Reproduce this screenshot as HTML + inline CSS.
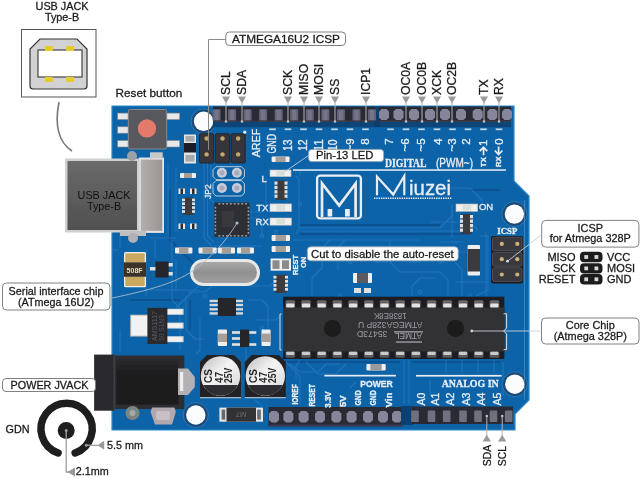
<!DOCTYPE html>
<html><head><meta charset="utf-8">
<style>
html,body{margin:0;padding:0;background:#fff;width:640px;height:478px;overflow:hidden}
svg{display:block}
text{font-family:"Liberation Sans",sans-serif}
.sf{font-family:"Liberation Serif",serif;font-weight:bold}
text[fill="#e9eef5"]{stroke:#e9eef5;stroke-width:0.3px}
text[fill="#1a1a1a"]{stroke:#1a1a1a;stroke-width:0.28px}
</style></head><body>
<svg width="640" height="478" viewBox="0 0 640 478">
<defs>
<linearGradient id="capg" x1="0" y1="0" x2="1" y2="1">
<stop offset="0" stop-color="#bdbdbd"/><stop offset="0.45" stop-color="#f4f4f4"/><stop offset="1" stop-color="#d6d6d6"/>
</linearGradient>
<linearGradient id="xtal" x1="0" y1="0" x2="0" y2="1">
<stop offset="0" stop-color="#a8a8a8"/><stop offset="0.5" stop-color="#909090"/><stop offset="1" stop-color="#a0a0a0"/>
</linearGradient>
<linearGradient id="usbside" x1="0" y1="0" x2="1" y2="0">
<stop offset="0" stop-color="#b4aeac"/><stop offset="1" stop-color="#9a9492"/>
</linearGradient>
<linearGradient id="usbface" x1="0" y1="0" x2="0" y2="1">
<stop offset="0" stop-color="#6a6a6a"/><stop offset="1" stop-color="#505050"/>
</linearGradient>
<linearGradient id="pjbody" x1="0" y1="0" x2="0" y2="1">
<stop offset="0" stop-color="#2a2a2c"/><stop offset="0.3" stop-color="#1c1c1e"/><stop offset="1" stop-color="#1a1a1c"/>
</linearGradient>
<filter id="bl" x="-2%" y="-2%" width="104%" height="104%"><feGaussianBlur stdDeviation="0.45"/></filter>
</defs>
<rect width="640" height="478" fill="#fff"/>

<g filter="url(#bl)">
<path d="M112,106 L514,106 L514,181 L529,196 L529,400 L515,414 L515,430 L112,430 Z" fill="#0c63a8" stroke="#2c88c8" stroke-width="1.2"/>
<g fill="none" stroke="#0a4f8f" stroke-width="2" opacity="0.8">
<path d="M300,234 L470,234"/>
<path d="M300,225 L440,225"/>
<path d="M170,190 L170,240 L200,270"/>
<path d="M190,300 L190,330"/>
<path d="M284,362 L400,362"/>
<path d="M412,362 L500,362"/>
<path d="M130,300 L180,300"/>
<path d="M470,190 L500,190"/>
</g>
<g fill="none" stroke="#2377bd" stroke-width="1.1" opacity="0.9">
<path d="M204,160 L204,238 L212,246"/>
<path d="M207.5,160 L207.5,236 L214,242.5"/>
<path d="M176,168 L176,232"/>
<path d="M172,240 L172,300 L180,308 L180,350"/>
<path d="M250,212 L262,212 L266,208 L266,178"/>
<path d="M250,218 L258,218 L262,222 L262,236"/>
<path d="M296,176 L299,179 L299,230 L296,233"/>
<path d="M293,240 L420,240"/>
<path d="M300,231 L470,231"/>
<path d="M300,228 L440,228 L452,216 L452,206"/>
<path d="M330,240 L322,248 L322,268 L312,278 L312,296"/>
<path d="M345,240 L338,247 L338,270"/>
<path d="M375,262 L390,262 L400,272 L440,272 L448,280 L448,296"/>
<path d="M390,262 L390,242"/>
<path d="M410,262 L420,262 L430,252 L480,252"/>
<path d="M455,262 L462,270 L462,296"/>
<path d="M188,292 L205,292 L212,286 L270,286 L276,280"/>
<path d="M186,296 L186,330 L195,339 L205,339"/>
<path d="M248,300 L262,300 L268,306 L268,328"/>
<path d="M200,318 L200,350 L196,354"/>
<path d="M255,320 L276,320 L280,316"/>
<path d="M120,196 L120,248"/>
<path d="M150,238 L176,238"/>
<path d="M290,364 L300,372 L318,372 L326,364 L340,364"/>
<path d="M404,360 L404,404"/>
<path d="M409,360 L409,404"/>
<path d="M300,360 L296,366 L296,378"/>
<path d="M446,360 L446,372"/>
<path d="M462,360 L462,372"/>
<path d="M478,360 L478,372"/>
<path d="M494,360 L494,372"/>
<path d="M430,188 L470,188 L482,200 L482,204"/>
<path d="M480,236 L488,236 L488,290 L476,296"/>
<path d="M176,260 L176,290"/>
<path d="M150,290 L200,290"/>
<path d="M215,246 L262,246"/>
<path d="M112,250 L118,250"/>
<path d="M255,400 L262,406"/>
<path d="M246,360 L246,340"/>
<path d="M486,232 L486,296"/>
<path d="M430,222 L470,222 L478,230"/>
<path d="M440,242 L462,242"/>
<path d="M455,282 L488,282"/>
<path d="M452,204 L452,238"/>
<path d="M168,165 L168,236"/>
<path d="M211,165 L211,200 L214,203"/>
<path d="M286,362 L300,376 L300,404"/>
<path d="M306,362 L318,374 L336,374 L346,364"/>
<path d="M350,388 L356,382"/>
<path d="M412,296 L412,286 L420,278 L436,278"/>
<path d="M300,170 L300,176"/>
<path d="M120,330 L120,352"/>
<path d="M176,308 L200,284 L214,284"/>
<path d="M146,250 L146,296"/>
<path d="M155,240 L155,258"/>
<path d="M430,380 L430,395"/>
<path d="M503,362 L503,396"/>
</g>
<circle cx="262" cy="236" r="1.8" fill="none" stroke="#2377bd" stroke-width="1"/>
<circle cx="276" cy="232" r="1.8" fill="none" stroke="#2377bd" stroke-width="1"/>
<circle cx="300" cy="204" r="1.8" fill="none" stroke="#2377bd" stroke-width="1"/>
<circle cx="340" cy="296" r="1.8" fill="none" stroke="#2377bd" stroke-width="1"/>
<circle cx="420" cy="292" r="1.8" fill="none" stroke="#2377bd" stroke-width="1"/>
<circle cx="470" cy="296" r="1.8" fill="none" stroke="#2377bd" stroke-width="1"/>
<circle cx="205" cy="296" r="1.8" fill="none" stroke="#2377bd" stroke-width="1"/>
<circle cx="480" cy="300" r="1.8" fill="none" stroke="#2377bd" stroke-width="1"/>
<circle cx="350" cy="262" r="1.8" fill="none" stroke="#2377bd" stroke-width="1"/>
<circle cx="440" cy="262" r="1.8" fill="none" stroke="#2377bd" stroke-width="1"/>
<circle cx="398" cy="300" r="1.8" fill="none" stroke="#2377bd" stroke-width="1"/>
<circle cx="262" cy="328" r="1.8" fill="none" stroke="#2377bd" stroke-width="1"/>
<circle cx="203.6" cy="121.3" r="12.6" fill="#1d4c7a" stroke="#2a7ab8" stroke-width="1"/>
<circle cx="203.6" cy="121.3" r="9.7" fill="#fbfcfd"/>
<circle cx="514.4" cy="214.1" r="12.6" fill="#1d4c7a" stroke="#2a7ab8" stroke-width="1"/>
<circle cx="514.4" cy="214.1" r="9.7" fill="#fbfcfd"/>
<circle cx="514.8" cy="384.2" r="12.6" fill="#1d4c7a" stroke="#2a7ab8" stroke-width="1"/>
<circle cx="514.8" cy="384.2" r="9.7" fill="#fbfcfd"/>
<circle cx="195.8" cy="415" r="12.6" fill="#1d4c7a" stroke="#2a7ab8" stroke-width="1"/>
<circle cx="195.8" cy="415" r="9.7" fill="#fbfcfd"/>
<rect x="213" y="121" width="298" height="6.2" fill="#0a4577"/>
<rect x="374" y="106.5" width="6" height="20" fill="#0b3d6a"/>
<rect x="213" y="106.5" width="162" height="15.5" fill="#2a2a36"/>
<rect x="213" y="120.5" width="162" height="1.5" fill="#3a3a48"/>
<rect x="212.5" y="109.2" width="8" height="11.4" rx="1.2" fill="#64647a"/>
<rect x="214.5" y="110" width="4" height="10" fill="#747488"/>
<rect x="228.1" y="109.2" width="8" height="11.4" rx="1.2" fill="#64647a"/>
<rect x="230.1" y="110" width="4" height="10" fill="#747488"/>
<rect x="243.6" y="109.2" width="8" height="11.4" rx="1.2" fill="#64647a"/>
<rect x="245.6" y="110" width="4" height="10" fill="#747488"/>
<rect x="259.1" y="109.2" width="8" height="11.4" rx="1.2" fill="#64647a"/>
<rect x="261.1" y="110" width="4" height="10" fill="#747488"/>
<rect x="274.7" y="109.2" width="8" height="11.4" rx="1.2" fill="#64647a"/>
<rect x="276.7" y="110" width="4" height="10" fill="#747488"/>
<rect x="290.2" y="109.2" width="8" height="11.4" rx="1.2" fill="#64647a"/>
<rect x="292.2" y="110" width="4" height="10" fill="#747488"/>
<rect x="305.8" y="109.2" width="8" height="11.4" rx="1.2" fill="#64647a"/>
<rect x="307.8" y="110" width="4" height="10" fill="#747488"/>
<rect x="321.4" y="109.2" width="8" height="11.4" rx="1.2" fill="#64647a"/>
<rect x="323.4" y="110" width="4" height="10" fill="#747488"/>
<rect x="336.9" y="109.2" width="8" height="11.4" rx="1.2" fill="#64647a"/>
<rect x="338.9" y="110" width="4" height="10" fill="#747488"/>
<rect x="352.5" y="109.2" width="8" height="11.4" rx="1.2" fill="#64647a"/>
<rect x="354.5" y="110" width="4" height="10" fill="#747488"/>
<rect x="368.0" y="109.2" width="8" height="11.4" rx="1.2" fill="#64647a"/>
<rect x="370.0" y="110" width="4" height="10" fill="#747488"/>
<rect x="379" y="106.5" width="132" height="15.5" fill="#2a2a36"/>
<rect x="379" y="120.5" width="132" height="1.5" fill="#3a3a48"/>
<path d="M381.5,109 L386.5,109 L389.0,111.5 L389.0,117.5 L386.5,120 L381.5,120 L379.0,117.5 L379.0,111.5 Z" fill="#86869a"/>
<path d="M396.0,109 L401.0,109 L403.5,111.5 L403.5,117.5 L401.0,120 L396.0,120 L393.5,117.5 L393.5,111.5 Z" fill="#86869a"/>
<path d="M411.5,109 L416.5,109 L419.0,111.5 L419.0,117.5 L416.5,120 L411.5,120 L409.0,117.5 L409.0,111.5 Z" fill="#86869a"/>
<path d="M427.5,109 L432.5,109 L435.0,111.5 L435.0,117.5 L432.5,120 L427.5,120 L425.0,117.5 L425.0,111.5 Z" fill="#86869a"/>
<path d="M442.5,109 L447.5,109 L450.0,111.5 L450.0,117.5 L447.5,120 L442.5,120 L440.0,117.5 L440.0,111.5 Z" fill="#86869a"/>
<path d="M458.5,109 L463.5,109 L466.0,111.5 L466.0,117.5 L463.5,120 L458.5,120 L456.0,117.5 L456.0,111.5 Z" fill="#86869a"/>
<path d="M475.2,109 L480.2,109 L482.7,111.5 L482.7,117.5 L480.2,120 L475.2,120 L472.7,117.5 L472.7,111.5 Z" fill="#86869a"/>
<path d="M489.8,109 L494.8,109 L497.3,111.5 L497.3,117.5 L494.8,120 L489.8,120 L487.3,117.5 L487.3,111.5 Z" fill="#86869a"/>
<path d="M504.5,109 L509.5,109 L512.0,111.5 L512.0,117.5 L509.5,120 L504.5,120 L502.0,117.5 L502.0,111.5 Z" fill="#86869a"/>
<rect x="269.2" y="128.4" width="6.6" height="1.8" fill="#dfe8f2" opacity="0.85"/>
<rect x="284.7" y="128.4" width="6.6" height="1.8" fill="#dfe8f2" opacity="0.85"/>
<rect x="300.2" y="128.4" width="6.6" height="1.8" fill="#dfe8f2" opacity="0.85"/>
<rect x="315.7" y="128.4" width="6.6" height="1.8" fill="#dfe8f2" opacity="0.85"/>
<rect x="331.2" y="128.4" width="6.6" height="1.8" fill="#dfe8f2" opacity="0.85"/>
<rect x="346.7" y="128.4" width="6.6" height="1.8" fill="#dfe8f2" opacity="0.85"/>
<rect x="362.2" y="128.4" width="6.6" height="1.8" fill="#dfe8f2" opacity="0.85"/>
<rect x="387.2" y="128.4" width="6.6" height="1.8" fill="#dfe8f2" opacity="0.85"/>
<rect x="402.7" y="128.4" width="6.6" height="1.8" fill="#dfe8f2" opacity="0.85"/>
<rect x="418.2" y="128.4" width="6.6" height="1.8" fill="#dfe8f2" opacity="0.85"/>
<rect x="433.7" y="128.4" width="6.6" height="1.8" fill="#dfe8f2" opacity="0.85"/>
<rect x="449.2" y="128.4" width="6.6" height="1.8" fill="#dfe8f2" opacity="0.85"/>
<rect x="464.7" y="128.4" width="6.6" height="1.8" fill="#dfe8f2" opacity="0.85"/>
<rect x="480.2" y="128.4" width="6.6" height="1.8" fill="#dfe8f2" opacity="0.85"/>
<rect x="495.7" y="128.4" width="6.6" height="1.8" fill="#dfe8f2" opacity="0.85"/>
<rect x="268.5" y="407" width="134.5" height="19" fill="#2a2a36"/>
<path d="M271.5,411 L276.5,411 L279.0,413.5 L279.0,420 L276.5,422.6 L271.5,422.6 L269.0,420 L269.0,413.5 Z" fill="#86869a"/>
<path d="M285.9,411 L290.9,411 L293.4,413.5 L293.4,420 L290.9,422.6 L285.9,422.6 L283.4,420 L283.4,413.5 Z" fill="#86869a"/>
<path d="M301.1,411 L306.1,411 L308.6,413.5 L308.6,420 L306.1,422.6 L301.1,422.6 L298.6,420 L298.6,413.5 Z" fill="#86869a"/>
<path d="M317.5,411 L322.5,411 L325.0,413.5 L325.0,420 L322.5,422.6 L317.5,422.6 L315.0,420 L315.0,413.5 Z" fill="#86869a"/>
<path d="M333.9,411 L338.9,411 L341.4,413.5 L341.4,420 L338.9,422.6 L333.9,422.6 L331.4,420 L331.4,413.5 Z" fill="#86869a"/>
<path d="M349.1,411 L354.1,411 L356.6,413.5 L356.6,420 L354.1,422.6 L349.1,422.6 L346.6,420 L346.6,413.5 Z" fill="#86869a"/>
<path d="M365.5,411 L370.5,411 L373.0,413.5 L373.0,420 L370.5,422.6 L365.5,422.6 L363.0,420 L363.0,413.5 Z" fill="#86869a"/>
<path d="M380.5,411 L385.5,411 L388.0,413.5 L388.0,420 L385.5,422.6 L380.5,422.6 L378.0,420 L378.0,413.5 Z" fill="#86869a"/>
<path d="M394.5,411 L399.5,411 L402.0,413.5 L402.0,420 L399.5,422.6 L394.5,422.6 L392.0,420 L392.0,413.5 Z" fill="#86869a"/>
<rect x="268.5" y="424.5" width="134.5" height="2" fill="#3a3a48"/>
<rect x="401" y="406" width="12" height="19" fill="#0a4172"/>
<rect x="412" y="406.5" width="101" height="17.5" fill="#2a2a36"/>
<rect x="411.2" y="410.5" width="7.6" height="11.5" rx="1" fill="#70707f"/>
<rect x="427.7" y="410.5" width="7.6" height="11.5" rx="1" fill="#70707f"/>
<rect x="442.9" y="410.5" width="7.6" height="11.5" rx="1" fill="#70707f"/>
<rect x="459.2" y="410.5" width="7.6" height="11.5" rx="1" fill="#70707f"/>
<rect x="474.2" y="410.5" width="7.6" height="11.5" rx="1" fill="#70707f"/>
<rect x="489.7" y="410.5" width="7.6" height="11.5" rx="1" fill="#70707f"/>
<rect x="504.9" y="410.5" width="7.6" height="11.5" rx="1" fill="#70707f"/>
<rect x="139" y="157.5" width="25" height="75.4" fill="#e4e4e4"/>
<rect x="140.8" y="159.6" width="21.4" height="71.2" fill="url(#usbside)"/>
<rect x="65" y="158.5" width="74.5" height="74" fill="#d0d0d0"/>
<rect x="67.5" y="161" width="69.5" height="69" fill="url(#usbface)"/>
<text x="104" y="199" font-size="10.8" fill="#111" text-anchor="middle" >USB JACK</text>
<text x="104" y="210" font-size="10.8" fill="#111" text-anchor="middle" >Type-B</text>
<rect x="117.7" y="113.1" width="11" height="6.4" fill="#e8e8e8" stroke="#8a8a8a" stroke-width="0.6"/>
<rect x="117.7" y="126.8" width="11" height="6.4" fill="#e8e8e8" stroke="#8a8a8a" stroke-width="0.6"/>
<rect x="117.7" y="140.60000000000002" width="11" height="6.4" fill="#e8e8e8" stroke="#8a8a8a" stroke-width="0.6"/>
<rect x="166" y="113.1" width="13.6" height="6.4" fill="#e8e8e8" stroke="#8a8a8a" stroke-width="0.6"/>
<rect x="166" y="140.60000000000002" width="13.6" height="6.4" fill="#e8e8e8" stroke="#8a8a8a" stroke-width="0.6"/>
<rect x="128.3" y="109.5" width="38.4" height="39.5" rx="1.5" fill="#58585e" stroke="#88888e" stroke-width="1"/>
<circle cx="147" cy="128.4" r="9.2" fill="#e67a6a"/>
<rect x="199.5" y="133.7" width="14.2" height="29.3" rx="1.5" fill="#34343a" stroke="#1e1e22" stroke-width="0.8"/>
<circle cx="206.6" cy="138.5" r="2.2" fill="#c9a66a"/>
<circle cx="206.6" cy="154.4" r="2.2" fill="#c9a66a"/>
<rect x="215.4" y="133.7" width="14.2" height="29.3" rx="1.5" fill="#34343a" stroke="#1e1e22" stroke-width="0.8"/>
<circle cx="222.5" cy="138.5" r="2.2" fill="#c9a66a"/>
<circle cx="222.5" cy="154.4" r="2.2" fill="#c9a66a"/>
<rect x="231" y="133.7" width="14.2" height="29.3" rx="1.5" fill="#34343a" stroke="#1e1e22" stroke-width="0.8"/>
<circle cx="238.1" cy="138.5" r="2.2" fill="#c9a66a"/>
<circle cx="238.1" cy="154.4" r="2.2" fill="#c9a66a"/>
<circle cx="244.8" cy="132.2" r="1.6" fill="#e8eef5"/>
<path d="M216,166.7 L241.5,166.7 L244.4,169.7 L244.4,176.7 L241.5,179.7 L216,179.7 L213,176.7 L213,169.7 Z" fill="none" stroke="#d0dae6" stroke-width="0.9"/>
<path d="M216,180.6 L241.5,180.6 L244.4,183.6 L244.4,193 L241.5,196 L216,196 L213,193 L213,183.6 Z" fill="none" stroke="#d0dae6" stroke-width="0.9"/>
<circle cx="221.9" cy="172.8" r="5" fill="#c8ccd8"/>
<circle cx="221.9" cy="172.8" r="2.6" fill="#a4aabb"/>
<circle cx="236.9" cy="172.8" r="5" fill="#c8ccd8"/>
<circle cx="236.9" cy="172.8" r="2.6" fill="#a4aabb"/>
<circle cx="221.9" cy="188" r="5" fill="#c8ccd8"/>
<circle cx="221.9" cy="188" r="2.6" fill="#a4aabb"/>
<circle cx="236.9" cy="188" r="5" fill="#c8ccd8"/>
<circle cx="236.9" cy="188" r="2.6" fill="#a4aabb"/>
<rect x="214.3" y="202.6" width="35.2" height="34.4" rx="1" fill="#2e2e34"/>
<rect x="218.5" y="203" width="1.8" height="1.6" fill="#9a9aa0"/><rect x="218.5" y="235" width="1.8" height="1.6" fill="#9a9aa0"/>
<rect x="214.6" y="206.8" width="1.6" height="1.8" fill="#9a9aa0"/><rect x="247.6" y="206.8" width="1.6" height="1.8" fill="#9a9aa0"/>
<rect x="222.3" y="203" width="1.8" height="1.6" fill="#9a9aa0"/><rect x="222.3" y="235" width="1.8" height="1.6" fill="#9a9aa0"/>
<rect x="214.6" y="210.4" width="1.6" height="1.8" fill="#9a9aa0"/><rect x="247.6" y="210.4" width="1.6" height="1.8" fill="#9a9aa0"/>
<rect x="226.1" y="203" width="1.8" height="1.6" fill="#9a9aa0"/><rect x="226.1" y="235" width="1.8" height="1.6" fill="#9a9aa0"/>
<rect x="214.6" y="214.0" width="1.6" height="1.8" fill="#9a9aa0"/><rect x="247.6" y="214.0" width="1.6" height="1.8" fill="#9a9aa0"/>
<rect x="229.9" y="203" width="1.8" height="1.6" fill="#9a9aa0"/><rect x="229.9" y="235" width="1.8" height="1.6" fill="#9a9aa0"/>
<rect x="214.6" y="217.6" width="1.6" height="1.8" fill="#9a9aa0"/><rect x="247.6" y="217.6" width="1.6" height="1.8" fill="#9a9aa0"/>
<rect x="233.7" y="203" width="1.8" height="1.6" fill="#9a9aa0"/><rect x="233.7" y="235" width="1.8" height="1.6" fill="#9a9aa0"/>
<rect x="214.6" y="221.2" width="1.6" height="1.8" fill="#9a9aa0"/><rect x="247.6" y="221.2" width="1.6" height="1.8" fill="#9a9aa0"/>
<rect x="237.5" y="203" width="1.8" height="1.6" fill="#9a9aa0"/><rect x="237.5" y="235" width="1.8" height="1.6" fill="#9a9aa0"/>
<rect x="214.6" y="224.8" width="1.6" height="1.8" fill="#9a9aa0"/><rect x="247.6" y="224.8" width="1.6" height="1.8" fill="#9a9aa0"/>
<rect x="241.3" y="203" width="1.8" height="1.6" fill="#9a9aa0"/><rect x="241.3" y="235" width="1.8" height="1.6" fill="#9a9aa0"/>
<rect x="214.6" y="228.4" width="1.6" height="1.8" fill="#9a9aa0"/><rect x="247.6" y="228.4" width="1.6" height="1.8" fill="#9a9aa0"/>
<rect x="245.1" y="203" width="1.8" height="1.6" fill="#9a9aa0"/><rect x="245.1" y="235" width="1.8" height="1.6" fill="#9a9aa0"/>
<rect x="214.6" y="232.0" width="1.6" height="1.8" fill="#9a9aa0"/><rect x="247.6" y="232.0" width="1.6" height="1.8" fill="#9a9aa0"/>
<rect x="222" y="211" width="12" height="16" fill="#3a3a40" opacity="0.8"/>
<rect x="190" y="259" width="70" height="27" rx="13.5" fill="#e8e8e8"/>
<rect x="193" y="262" width="64" height="21" rx="10.5" fill="url(#xtal)"/>
<rect x="124" y="252" width="22" height="35.3" rx="1.5" fill="#f0f0f0"/>
<rect x="125.3" y="253.3" width="19.4" height="9" fill="#cba85e"/>
<rect x="125.3" y="276.8" width="19.4" height="9.2" fill="#cba85e"/>
<rect x="124" y="262.3" width="22" height="14.5" fill="#3a322a"/>
<text x="134.6" y="273.2" font-size="7.2" font-weight="bold" fill="#e8dcc0" text-anchor="middle" textLength="16" lengthAdjust="spacingAndGlyphs">508F</text>
<rect x="130.2" y="314.7" width="17.8" height="21.9" fill="#c8bcb4"/>
<rect x="131.2" y="315.7" width="16" height="19.9" fill="#f2f2f2"/>
<rect x="167" y="308.8" width="16.6" height="6" fill="#d8d8d8"/>
<rect x="167" y="309.6" width="15" height="4.4" fill="#f2f2f2"/>
<rect x="167" y="322.6" width="16.6" height="6" fill="#d8d8d8"/>
<rect x="167" y="323.40000000000003" width="15" height="4.4" fill="#f2f2f2"/>
<rect x="167" y="336.2" width="16.6" height="6" fill="#d8d8d8"/>
<rect x="167" y="337.0" width="15" height="4.4" fill="#f2f2f2"/>
<rect x="147.5" y="307.9" width="19.9" height="36.1" fill="#2c2b2f"/>
<text transform="translate(157.24,341) rotate(-90)" font-size="6.5" fill="#5a5a5e" text-anchor="start" textLength="30" lengthAdjust="spacingAndGlyphs">AMS1117</text>
<text transform="translate(164.24,341) rotate(-90)" font-size="6.5" fill="#55555a" text-anchor="start" textLength="26" lengthAdjust="spacingAndGlyphs">50 S1N3</text>
<rect x="114.3" y="355.5" width="70" height="53.5" fill="#2e2e31"/>
<rect x="116.5" y="359.5" width="62" height="45" fill="url(#pjbody)"/>
<path d="M178,368.6 L188,368.6 L194.8,377 L194.8,387 L188,395 L178,395 Z" fill="#b4b0b4"/>
<rect x="180" y="372" width="3.2" height="19" fill="#eeeeee"/>
<rect x="94.1" y="354.6" width="20.2" height="56.1" fill="#2c2c2f"/>
<rect x="113.6" y="354.6" width="1.2" height="56" fill="#444448"/>
<circle cx="132.5" cy="413" r="7" fill="#7c8680"/>
<circle cx="132.5" cy="413" r="3" fill="#a8a8a8"/>
<path d="M152,407.6 L174.5,407.6 L175.8,412 L172,424.5 L155,424.5 L150.6,412 Z" fill="#b0a8ac"/>
<rect x="156" y="411" width="14" height="9" rx="2" fill="#c8c0c4"/>
<path d="M200.0,362 L207.0,355 L234.0,355 L241.0,362 L241.0,397.5 L200.0,397.5 Z" fill="#242428"/>
<rect x="200.0" y="397.2" width="41" height="1" fill="#c8d4e0"/>
<circle cx="220.5" cy="376" r="19.7" fill="url(#capg)"/>
<path d="M203.0,385 A19.7,19.7 0 0 0 238.0,385 Z" fill="#2e2e30"/>
<text transform="translate(211.94,382.9) rotate(-90)" font-size="10" fill="#262626" text-anchor="start" font-weight="bold">CS</text>
<text transform="translate(222.64,382.9) rotate(-90)" font-size="10" fill="#262626" text-anchor="start" font-weight="bold">47</text>
<text transform="translate(231.54,382.9) rotate(-90)" font-size="10" fill="#262626" text-anchor="start" font-weight="bold" textLength="15.2" lengthAdjust="spacingAndGlyphs">25V</text>
<path d="M244.8,362 L251.8,355 L278.8,355 L285.8,362 L285.8,397.5 L244.8,397.5 Z" fill="#242428"/>
<rect x="244.8" y="397.2" width="41" height="1" fill="#c8d4e0"/>
<circle cx="265.3" cy="376" r="19.7" fill="url(#capg)"/>
<path d="M247.8,385 A19.7,19.7 0 0 0 282.8,385 Z" fill="#2e2e30"/>
<text transform="translate(256.74,382.9) rotate(-90)" font-size="10" fill="#262626" text-anchor="start" font-weight="bold">CS</text>
<text transform="translate(267.44,382.9) rotate(-90)" font-size="10" fill="#262626" text-anchor="start" font-weight="bold">47</text>
<text transform="translate(276.34,382.9) rotate(-90)" font-size="10" fill="#262626" text-anchor="start" font-weight="bold" textLength="15.2" lengthAdjust="spacingAndGlyphs">25V</text>
<rect x="219.4" y="407.6" width="43.6" height="14.1" fill="#e6e6e6"/>
<rect x="221.6" y="409.6" width="3.6" height="10" fill="#6a6a6c"/><rect x="257.2" y="409.6" width="3.6" height="10" fill="#6a6a6c"/>
<rect x="226.5" y="407.6" width="29.5" height="14.1" fill="#323234"/>
<text transform="translate(241,414.6) rotate(180)" y="2.6" font-size="7.5" fill="#707074" text-anchor="middle">M7</text>
<rect x="283" y="296.7" width="221.4" height="62.3" fill="#1e1e22"/>
<rect x="285.5" y="300.3" width="9.6" height="7.6" rx="1.5" fill="#6a6466"/>
<rect x="286.2" y="303.4" width="8.2" height="4.3" rx="1.3" fill="#e2e2e4"/>
<rect x="285.5" y="351.2" width="9.6" height="6.6" rx="1.5" fill="#5e585a"/>
<rect x="286.2" y="351.6" width="8.2" height="3.4" rx="1.2" fill="#cacacc"/>
<rect x="301.2" y="300.3" width="9.6" height="7.6" rx="1.5" fill="#6a6466"/>
<rect x="301.9" y="303.4" width="8.2" height="4.3" rx="1.3" fill="#e2e2e4"/>
<rect x="301.2" y="351.2" width="9.6" height="6.6" rx="1.5" fill="#5e585a"/>
<rect x="301.9" y="351.6" width="8.2" height="3.4" rx="1.2" fill="#cacacc"/>
<rect x="316.9" y="300.3" width="9.6" height="7.6" rx="1.5" fill="#6a6466"/>
<rect x="317.6" y="303.4" width="8.2" height="4.3" rx="1.3" fill="#e2e2e4"/>
<rect x="316.9" y="351.2" width="9.6" height="6.6" rx="1.5" fill="#5e585a"/>
<rect x="317.6" y="351.6" width="8.2" height="3.4" rx="1.2" fill="#cacacc"/>
<rect x="332.6" y="300.3" width="9.6" height="7.6" rx="1.5" fill="#6a6466"/>
<rect x="333.3" y="303.4" width="8.2" height="4.3" rx="1.3" fill="#e2e2e4"/>
<rect x="332.6" y="351.2" width="9.6" height="6.6" rx="1.5" fill="#5e585a"/>
<rect x="333.3" y="351.6" width="8.2" height="3.4" rx="1.2" fill="#cacacc"/>
<rect x="348.3" y="300.3" width="9.6" height="7.6" rx="1.5" fill="#6a6466"/>
<rect x="349.0" y="303.4" width="8.2" height="4.3" rx="1.3" fill="#e2e2e4"/>
<rect x="348.3" y="351.2" width="9.6" height="6.6" rx="1.5" fill="#5e585a"/>
<rect x="349.0" y="351.6" width="8.2" height="3.4" rx="1.2" fill="#cacacc"/>
<rect x="364.0" y="300.3" width="9.6" height="7.6" rx="1.5" fill="#6a6466"/>
<rect x="364.7" y="303.4" width="8.2" height="4.3" rx="1.3" fill="#e2e2e4"/>
<rect x="364.0" y="351.2" width="9.6" height="6.6" rx="1.5" fill="#5e585a"/>
<rect x="364.7" y="351.6" width="8.2" height="3.4" rx="1.2" fill="#cacacc"/>
<rect x="379.7" y="300.3" width="9.6" height="7.6" rx="1.5" fill="#6a6466"/>
<rect x="380.4" y="303.4" width="8.2" height="4.3" rx="1.3" fill="#e2e2e4"/>
<rect x="379.7" y="351.2" width="9.6" height="6.6" rx="1.5" fill="#5e585a"/>
<rect x="380.4" y="351.6" width="8.2" height="3.4" rx="1.2" fill="#cacacc"/>
<rect x="395.4" y="300.3" width="9.6" height="7.6" rx="1.5" fill="#6a6466"/>
<rect x="396.1" y="303.4" width="8.2" height="4.3" rx="1.3" fill="#e2e2e4"/>
<rect x="395.4" y="351.2" width="9.6" height="6.6" rx="1.5" fill="#5e585a"/>
<rect x="396.1" y="351.6" width="8.2" height="3.4" rx="1.2" fill="#cacacc"/>
<rect x="411.1" y="300.3" width="9.6" height="7.6" rx="1.5" fill="#6a6466"/>
<rect x="411.8" y="303.4" width="8.2" height="4.3" rx="1.3" fill="#e2e2e4"/>
<rect x="411.1" y="351.2" width="9.6" height="6.6" rx="1.5" fill="#5e585a"/>
<rect x="411.8" y="351.6" width="8.2" height="3.4" rx="1.2" fill="#cacacc"/>
<rect x="426.8" y="300.3" width="9.6" height="7.6" rx="1.5" fill="#6a6466"/>
<rect x="427.5" y="303.4" width="8.2" height="4.3" rx="1.3" fill="#e2e2e4"/>
<rect x="426.8" y="351.2" width="9.6" height="6.6" rx="1.5" fill="#5e585a"/>
<rect x="427.5" y="351.6" width="8.2" height="3.4" rx="1.2" fill="#cacacc"/>
<rect x="442.5" y="300.3" width="9.6" height="7.6" rx="1.5" fill="#6a6466"/>
<rect x="443.2" y="303.4" width="8.2" height="4.3" rx="1.3" fill="#e2e2e4"/>
<rect x="442.5" y="351.2" width="9.6" height="6.6" rx="1.5" fill="#5e585a"/>
<rect x="443.2" y="351.6" width="8.2" height="3.4" rx="1.2" fill="#cacacc"/>
<rect x="458.2" y="300.3" width="9.6" height="7.6" rx="1.5" fill="#6a6466"/>
<rect x="458.9" y="303.4" width="8.2" height="4.3" rx="1.3" fill="#e2e2e4"/>
<rect x="458.2" y="351.2" width="9.6" height="6.6" rx="1.5" fill="#5e585a"/>
<rect x="458.9" y="351.6" width="8.2" height="3.4" rx="1.2" fill="#cacacc"/>
<rect x="473.9" y="300.3" width="9.6" height="7.6" rx="1.5" fill="#6a6466"/>
<rect x="474.6" y="303.4" width="8.2" height="4.3" rx="1.3" fill="#e2e2e4"/>
<rect x="473.9" y="351.2" width="9.6" height="6.6" rx="1.5" fill="#5e585a"/>
<rect x="474.6" y="351.6" width="8.2" height="3.4" rx="1.2" fill="#cacacc"/>
<rect x="489.6" y="300.3" width="9.6" height="7.6" rx="1.5" fill="#6a6466"/>
<rect x="490.3" y="303.4" width="8.2" height="4.3" rx="1.3" fill="#e2e2e4"/>
<rect x="489.6" y="351.2" width="9.6" height="6.6" rx="1.5" fill="#5e585a"/>
<rect x="490.3" y="351.6" width="8.2" height="3.4" rx="1.2" fill="#cacacc"/>
<rect x="283" y="307.6" width="221.4" height="43.8" fill="#323235"/>
<circle cx="332.5" cy="328.5" r="8.5" fill="#1a1a1c"/>
<circle cx="455.5" cy="328.5" r="8.5" fill="#1a1a1c"/>
<rect x="180" y="173" width="16" height="5" rx="1" fill="#eeeeee"/>
<rect x="184.0" y="173" width="8.0" height="5" fill="#a49e98"/>
<rect x="178.5" y="188.5" width="6.5" height="5.5" fill="#e6e6e6"/><rect x="180.5" y="188.5" width="2.5" height="5.5" fill="#2a2a2a"/>
<rect x="190" y="188.5" width="6.5" height="5.5" fill="#e6e6e6"/><rect x="192" y="188.5" width="2.5" height="5.5" fill="#2a2a2a"/>
<rect x="178.5" y="223.5" width="6.5" height="5.5" fill="#e6e6e6"/><rect x="180.5" y="223.5" width="2.5" height="5.5" fill="#2a2a2a"/>
<rect x="190" y="223.5" width="6.5" height="5.5" fill="#e6e6e6"/><rect x="192" y="223.5" width="2.5" height="5.5" fill="#2a2a2a"/>
<rect x="183.5" y="197.6" width="10" height="17.4" fill="#3c3a3e"/>
<rect x="182.0" y="198.6" width="3" height="2.6" fill="#e0e0e0"/>
<rect x="192.0" y="198.6" width="3" height="2.6" fill="#e0e0e0"/>
<rect x="182.0" y="202.4" width="3" height="2.6" fill="#e0e0e0"/>
<rect x="192.0" y="202.4" width="3" height="2.6" fill="#e0e0e0"/>
<rect x="182.0" y="206.3" width="3" height="2.6" fill="#e0e0e0"/>
<rect x="192.0" y="206.3" width="3" height="2.6" fill="#e0e0e0"/>
<rect x="182.0" y="210.2" width="3" height="2.6" fill="#e0e0e0"/>
<rect x="192.0" y="210.2" width="3" height="2.6" fill="#e0e0e0"/>
<rect x="184" y="134.5" width="12" height="29" fill="#e4e4e4"/>
<rect x="184" y="143" width="12" height="9.5" fill="#1e1e20"/>
<rect x="185.5" y="136" width="9" height="5.5" fill="#a8a8a8"/><rect x="185.5" y="155" width="9" height="6.5" fill="#a8a8a8"/>
<rect x="150" y="152.3" width="12.7" height="6" fill="#c8c8c8"/>
<circle cx="132" cy="156" r="5" fill="#9aa0a8"/>
<rect x="175" y="247.5" width="17.400000000000006" height="6" rx="1" fill="#eeeeee"/>
<rect x="179.0" y="247.5" width="9.4" height="6" fill="#a49e98"/>
<rect x="198.5" y="247.5" width="18.19999999999999" height="6" rx="1" fill="#eeeeee"/>
<rect x="202.5" y="247.5" width="10.2" height="6" fill="#a49e98"/>
<rect x="217.8" y="247.5" width="17.19999999999999" height="6" rx="1" fill="#eeeeee"/>
<rect x="221.8" y="247.5" width="9.2" height="6" fill="#a49e98"/>
<rect x="237" y="247.5" width="17" height="6" rx="1" fill="#eeeeee"/>
<rect x="241.0" y="247.5" width="9.0" height="6" fill="#a49e98"/>
<rect x="271.6" y="235" width="18.4" height="6" rx="1" fill="#eeeeee"/>
<rect x="275.6" y="235" width="10.4" height="6" fill="#a49e98"/>
<rect x="271.6" y="246" width="18.4" height="6" rx="1" fill="#eeeeee"/>
<rect x="275.6" y="246" width="10.4" height="6" fill="#a49e98"/>
<rect x="270.6" y="258.5" width="20.4" height="12.2" fill="#f0f0f0"/>
<rect x="272.5" y="260.3" width="7" height="8.6" fill="#8a8a8a"/><rect x="282" y="260.3" width="7" height="8.6" fill="#8a8a8a"/>
<rect x="275" y="274.8" width="11.5" height="18.2" fill="#3c3a3e"/>
<rect x="273.5" y="275.8" width="3" height="2.8" fill="#e0e0e0"/>
<rect x="285.0" y="275.8" width="3" height="2.8" fill="#e0e0e0"/>
<rect x="273.5" y="279.9" width="3" height="2.8" fill="#e0e0e0"/>
<rect x="285.0" y="279.9" width="3" height="2.8" fill="#e0e0e0"/>
<rect x="273.5" y="283.9" width="3" height="2.8" fill="#e0e0e0"/>
<rect x="285.0" y="283.9" width="3" height="2.8" fill="#e0e0e0"/>
<rect x="273.5" y="287.9" width="3" height="2.8" fill="#e0e0e0"/>
<rect x="285.0" y="287.9" width="3" height="2.8" fill="#e0e0e0"/>
<rect x="270" y="170" width="21" height="6.7" fill="#f0f0f0" stroke="#b8b8b8" stroke-width="0.6"/>
<rect x="276.3" y="171" width="8.4" height="4.7" fill="#d8e0d8"/>
<rect x="276" y="180.5" width="10" height="19.5" fill="#3c3a3e"/>
<rect x="274.5" y="181.5" width="3" height="3.2" fill="#e0e0e0"/>
<rect x="284.5" y="181.5" width="3" height="3.2" fill="#e0e0e0"/>
<rect x="274.5" y="185.9" width="3" height="3.2" fill="#e0e0e0"/>
<rect x="284.5" y="185.9" width="3" height="3.2" fill="#e0e0e0"/>
<rect x="274.5" y="190.2" width="3" height="3.2" fill="#e0e0e0"/>
<rect x="284.5" y="190.2" width="3" height="3.2" fill="#e0e0e0"/>
<rect x="274.5" y="194.6" width="3" height="3.2" fill="#e0e0e0"/>
<rect x="284.5" y="194.6" width="3" height="3.2" fill="#e0e0e0"/>
<rect x="270" y="203.9" width="21.5" height="7.8" fill="#f0f0f0" stroke="#b8b8b8" stroke-width="0.6"/>
<rect x="276.4" y="204.9" width="8.6" height="5.8" fill="#d8e0d8"/>
<rect x="270" y="218" width="21.5" height="7.2" fill="#f0f0f0" stroke="#b8b8b8" stroke-width="0.6"/>
<rect x="276.4" y="219" width="8.6" height="5.2" fill="#d8e0d8"/>
<rect x="271.6" y="156.6" width="18" height="5.5" rx="1" fill="#eeeeee"/>
<rect x="275.6" y="156.6" width="10.0" height="5.5" fill="#a49e98"/>
<rect x="456" y="204" width="21.7" height="7.4" fill="#f0f0f0" stroke="#b8b8b8" stroke-width="0.6"/>
<rect x="462.5" y="205" width="8.7" height="5.4" fill="#d8e0d8"/>
<rect x="461.5" y="214" width="10" height="20" fill="#3c3a3e"/>
<rect x="460.0" y="215.0" width="3" height="3.3" fill="#e0e0e0"/>
<rect x="470.0" y="215.0" width="3" height="3.3" fill="#e0e0e0"/>
<rect x="460.0" y="219.5" width="3" height="3.3" fill="#e0e0e0"/>
<rect x="470.0" y="219.5" width="3" height="3.3" fill="#e0e0e0"/>
<rect x="460.0" y="224.0" width="3" height="3.3" fill="#e0e0e0"/>
<rect x="470.0" y="224.0" width="3" height="3.3" fill="#e0e0e0"/>
<rect x="460.0" y="228.5" width="3" height="3.3" fill="#e0e0e0"/>
<rect x="470.0" y="228.5" width="3" height="3.3" fill="#e0e0e0"/>
<rect x="467.6" y="245" width="12.4" height="30.5" rx="1" fill="#eeeeee"/>
<rect x="467.6" y="249.0" width="12.4" height="22.5" fill="#3a3a3e"/>
<rect x="217.8" y="298" width="18.2" height="18" fill="#26262a"/>
<rect x="209.6" y="299.8" width="8.2" height="2.4" fill="#d8d8d8"/><rect x="236" y="299.8" width="7" height="2.4" fill="#d8d8d8"/>
<rect x="209.6" y="303.8" width="8.2" height="2.4" fill="#d8d8d8"/><rect x="236" y="303.8" width="7" height="2.4" fill="#d8d8d8"/>
<rect x="209.6" y="308.1" width="8.2" height="2.4" fill="#d8d8d8"/><rect x="236" y="308.1" width="7" height="2.4" fill="#d8d8d8"/>
<rect x="209.6" y="312.2" width="8.2" height="2.4" fill="#d8d8d8"/><rect x="236" y="312.2" width="7" height="2.4" fill="#d8d8d8"/>
<rect x="155.4" y="261.5" width="13.3" height="16" fill="#26262a"/>
<rect x="150" y="267" width="5.4" height="3.5" fill="#e0e0e0"/>
<rect x="168.7" y="263" width="4" height="3.5" fill="#e0e0e0"/><rect x="168.7" y="272" width="4" height="3.5" fill="#e0e0e0"/>
<rect x="240" y="329.6" width="9.3" height="17.4" fill="#26262a"/>
<rect x="232" y="331.2" width="8" height="2.6" fill="#e0e0e0"/>
<rect x="232" y="337.2" width="8" height="2.6" fill="#e0e0e0"/>
<rect x="232" y="343.2" width="8" height="2.6" fill="#e0e0e0"/>
<rect x="249.3" y="331.2" width="7" height="2.6" fill="#e0e0e0"/>
<rect x="249.3" y="343.2" width="7" height="2.6" fill="#e0e0e0"/>
<rect x="217.8" y="329.6" width="9.2" height="16.4" rx="1" fill="#eeeeee"/>
<rect x="217.8" y="333.6" width="9.2" height="8.4" fill="#a8a098"/>
<rect x="261.5" y="329.6" width="9.1" height="16.4" rx="1" fill="#eeeeee"/>
<rect x="261.5" y="333.6" width="9.1" height="8.4" fill="#a8a098"/>
<rect x="353" y="273" width="19" height="10" rx="1" fill="#eeeeee"/>
<rect x="357.0" y="273" width="11.0" height="10" fill="#5a5a60"/>
<rect x="354" y="288" width="7" height="5" fill="#e0e0e0"/><rect x="364" y="288" width="7" height="5" fill="#e0e0e0"/>
<rect x="366.4" y="364" width="19.3" height="6.5" rx="1" fill="#eeeeee"/>
<rect x="370.4" y="364" width="11.3" height="6.5" fill="#9a9a9a"/>
<rect x="120" y="231" width="26" height="5" fill="#c0c0c0"/>
<circle cx="133" cy="238" r="5" fill="#b0b0b8"/>
<rect x="293" y="169.3" width="213" height="1.5" fill="#e9eef5"/>
<rect x="324.3" y="374.8" width="71.6" height="1.7" fill="#e9eef5"/>
<rect x="416" y="374.9" width="85.6" height="1.7" fill="#e9eef5"/>
<path d="M503.6,313.8 L506.6,313.8 L506.6,328 L503.6,331 L506.6,334 L506.6,349.6 L503.6,349.6" fill="none" stroke="#e9eef5" stroke-width="0.9"/>
<path d="M281.5,314 L280,314 L280,350 L281.5,350" fill="none" stroke="#e9eef5" stroke-width="0.9"/>
<rect x="524" y="200" width="0.9" height="200" fill="#5aa0d8" opacity="0.6"/>
<text transform="translate(260.41,157.3) rotate(-90)" font-size="10.5" fill="#e9eef5" text-anchor="start" textLength="28.6" lengthAdjust="spacingAndGlyphs">AREF</text>
<text transform="translate(275.73,153.5) rotate(-90)" font-size="12" fill="#e9eef5" text-anchor="start" textLength="19.5" lengthAdjust="spacingAndGlyphs">GND</text>
<text transform="translate(291.80,151) rotate(-90)" font-size="12.5" fill="#e9eef5" text-anchor="start" textLength="11.6" lengthAdjust="spacingAndGlyphs">13</text>
<text transform="translate(307.30,151) rotate(-90)" font-size="12.5" fill="#e9eef5" text-anchor="start" textLength="11.6" lengthAdjust="spacingAndGlyphs">12</text>
<text transform="translate(323.10,151) rotate(-90)" font-size="12.5" fill="#e9eef5" text-anchor="start" textLength="11.6" lengthAdjust="spacingAndGlyphs">11</text>
<text transform="translate(337.30,151) rotate(-90)" font-size="12.5" fill="#e9eef5" text-anchor="start" textLength="11.6" lengthAdjust="spacingAndGlyphs">10</text>
<text transform="translate(353.56,138.4) rotate(-90)" font-size="11.5" fill="#e9eef5" text-anchor="end" >~9</text>
<text transform="translate(368.86,138.4) rotate(-90)" font-size="11.5" fill="#e9eef5" text-anchor="end" >8</text>
<text transform="translate(392.66,138.4) rotate(-90)" font-size="11.5" fill="#e9eef5" text-anchor="end" >7</text>
<text transform="translate(409.26,138.4) rotate(-90)" font-size="11.5" fill="#e9eef5" text-anchor="end" >~6</text>
<text transform="translate(424.76,138.4) rotate(-90)" font-size="11.5" fill="#e9eef5" text-anchor="end" >~5</text>
<text transform="translate(441.66,138.4) rotate(-90)" font-size="11.5" fill="#e9eef5" text-anchor="end" >4</text>
<text transform="translate(456.36,138.4) rotate(-90)" font-size="11.5" fill="#e9eef5" text-anchor="end" >~3</text>
<text transform="translate(470.46,138.4) rotate(-90)" font-size="11.5" fill="#e9eef5" text-anchor="end" >2</text>
<text transform="translate(487.46,139.5) rotate(-90)" font-size="11.5" fill="#e9eef5" text-anchor="end" >1</text>
<text transform="translate(502.56,138.4) rotate(-90)" font-size="11.5" fill="#e9eef5" text-anchor="end" >0</text>
<path d="M483.5,155.2 L483.5,147.8 M479.7,151.2 L483.5,147.3 L487.3,151.2" fill="none" stroke="#e9eef5" stroke-width="1.7"/>
<path d="M498.6,146.5 L498.6,154 M494.8,150.5 L498.6,154.5 L502.4,150.5" fill="none" stroke="#e9eef5" stroke-width="1.7"/>
<text transform="translate(486.11,167) rotate(-90)" font-size="7.6" fill="#e9eef5" text-anchor="start" font-weight="bold">TX</text>
<text transform="translate(501.21,167) rotate(-90)" font-size="7.6" fill="#e9eef5" text-anchor="start" font-weight="bold">RX</text>
<text x="385" y="166.8" font-size="12" class="sf" fill="#e9eef5" textLength="41.4" lengthAdjust="spacingAndGlyphs">DIGITAL</text>
<text x="436" y="166.8" font-size="12" fill="#e9eef5" textLength="37" lengthAdjust="spacingAndGlyphs">(PWM~)</text>
<rect x="317.1" y="175.7" width="43.8" height="42.7" rx="3" fill="none" stroke="#e9eef5" stroke-width="2.3"/>
<path d="M322,217 L322,183.5 L339.2,205.5 L355.6,183.5 L355.6,217" fill="none" stroke="#e9eef5" stroke-width="2.7" stroke-linejoin="miter"/>
<rect x="327.6" y="209" width="4.6" height="7.5" fill="#e9eef5"/><rect x="345" y="209" width="4.8" height="7.5" fill="#e9eef5"/>
<path d="M377,195.3 L377,176.6 L393.2,194.6 L404.3,176 L404.3,195.3" fill="none" stroke="#e9eef5" stroke-width="2.2"/>
<text x="409" y="195" font-size="20.5" fill="#e9eef5" textLength="42" lengthAdjust="spacingAndGlyphs">iuzei</text>
<line x1="374" y1="198.2" x2="451.6" y2="198.2" stroke="#e9eef5" stroke-width="1.5" stroke-dasharray="1.4,0.9"/>
<text x="264.2" y="182.2" font-size="9.5" fill="#e9eef5" text-anchor="middle" >L</text>
<text x="262.2" y="211.2" font-size="9.5" fill="#e9eef5" text-anchor="middle" >TX</text>
<text x="262.2" y="225.2" font-size="9.5" fill="#e9eef5" text-anchor="middle" >RX</text>
<text x="486" y="210" font-size="9.5" fill="#e9eef5" text-anchor="middle" >ON</text>
<text x="507.3" y="233.8" font-size="8.8" class="sf" fill="#e9eef5" text-anchor="middle">ICSP</text>
<text transform="translate(210.62,199) rotate(-90)" font-size="8.5" fill="#e9eef5" text-anchor="start" >JP2</text>
<text transform="translate(297.58,275) rotate(-90)" font-size="7.5" fill="#e9eef5" text-anchor="start" font-weight="bold">REST</text>
<text transform="translate(305.58,268) rotate(-90)" font-size="7.5" fill="#e9eef5" text-anchor="start" font-weight="bold">ON</text>
<text x="360.3" y="387" font-size="9.6" font-weight="bold" fill="#e9eef5" textLength="32.5" lengthAdjust="spacingAndGlyphs">POWER</text>
<text x="441.7" y="386.7" font-size="10" class="sf" fill="#e9eef5" textLength="57" lengthAdjust="spacingAndGlyphs">ANALOG IN</text>
<text transform="translate(298.36,404.6) rotate(-90)" font-size="9.2" fill="#e9eef5" text-anchor="start" font-weight="bold" textLength="20.3" lengthAdjust="spacingAndGlyphs">IOREF</text>
<text transform="translate(314.66,406.5) rotate(-90)" font-size="9.2" fill="#e9eef5" text-anchor="start" font-weight="bold" textLength="22.5" lengthAdjust="spacingAndGlyphs">RESET</text>
<text transform="translate(330.96,407.7) rotate(-90)" font-size="9.2" fill="#e9eef5" text-anchor="start" font-weight="bold" textLength="16.3" lengthAdjust="spacingAndGlyphs">3.3V</text>
<text transform="translate(345.76,407) rotate(-90)" font-size="9.2" fill="#e9eef5" text-anchor="start" font-weight="bold" textLength="11.5" lengthAdjust="spacingAndGlyphs">5V</text>
<text transform="translate(361.46,405.6) rotate(-90)" font-size="9.2" fill="#e9eef5" text-anchor="start" font-weight="bold" textLength="15.3" lengthAdjust="spacingAndGlyphs">GND</text>
<text transform="translate(375.66,405.6) rotate(-90)" font-size="9.2" fill="#e9eef5" text-anchor="start" font-weight="bold" textLength="15.3" lengthAdjust="spacingAndGlyphs">GND</text>
<text transform="translate(391.86,407.5) rotate(-90)" font-size="9.2" fill="#e9eef5" text-anchor="start" font-weight="bold" textLength="15" lengthAdjust="spacingAndGlyphs">Vin</text>
<text transform="translate(424.61,405.6) rotate(-90)" font-size="10.5" fill="#e9eef5" text-anchor="start" >A0</text>
<text transform="translate(439.21,405.6) rotate(-90)" font-size="10.5" fill="#e9eef5" text-anchor="start" >A1</text>
<text transform="translate(454.41,405.6) rotate(-90)" font-size="10.5" fill="#e9eef5" text-anchor="start" >A2</text>
<text transform="translate(469.61,405.6) rotate(-90)" font-size="10.5" fill="#e9eef5" text-anchor="start" >A3</text>
<text transform="translate(484.91,405.6) rotate(-90)" font-size="10.5" fill="#e9eef5" text-anchor="start" >A4</text>
<text transform="translate(501.21,405.6) rotate(-90)" font-size="10.5" fill="#e9eef5" text-anchor="start" >A5</text>
<rect x="491" y="236" width="32" height="47.5" rx="2" fill="#1a1a1e"/>
<rect x="492.5" y="237.1" width="29.5" height="13.8" rx="2" fill="#38383e" stroke="#5a5a62" stroke-width="0.7"/>
<circle cx="501.8" cy="243.9" r="2.1" fill="#cdb07a"/>
<circle cx="517.3" cy="243.9" r="2.1" fill="#cdb07a"/>
<rect x="492.5" y="252.4" width="29.5" height="13.8" rx="2" fill="#38383e" stroke="#5a5a62" stroke-width="0.7"/>
<circle cx="501.8" cy="259.2" r="2.1" fill="#cdb07a"/>
<circle cx="517.3" cy="259.2" r="2.1" fill="#cdb07a"/>
<rect x="492.5" y="267.7" width="29.5" height="13.8" rx="2" fill="#38383e" stroke="#5a5a62" stroke-width="0.7"/>
<circle cx="501.8" cy="274.5" r="2.1" fill="#cdb07a"/>
<circle cx="517.3" cy="274.5" r="2.1" fill="#cdb07a"/>
<text transform="translate(390.3,315.8) rotate(180)" y="3.15" font-family="Liberation Mono" font-size="9" fill="#9c9ca4" text-anchor="middle" textLength="33" lengthAdjust="spacingAndGlyphs">1838E8K</text>
<text transform="translate(390.2,324.9) rotate(180)" y="3.15" font-family="Liberation Mono" font-size="9" fill="#9c9ca4" text-anchor="middle" textLength="64.5" lengthAdjust="spacingAndGlyphs">ATMEGA328P U</text>
<text transform="translate(372.2,334.2) rotate(180)" y="3.15" font-family="Liberation Mono" font-size="9" fill="#9c9ca4" text-anchor="middle" textLength="30.6" lengthAdjust="spacingAndGlyphs">35473D</text>
<text transform="translate(408.4,336.6) rotate(180)" y="3.15" font-family="Liberation Sans" font-size="9" fill="#a4a4aa" text-anchor="middle" textLength="27" lengthAdjust="spacingAndGlyphs">ATMEL</text>
<rect x="394" y="331.2" width="29" height="1.3" fill="#a4a4aa"/>
<rect x="396" y="341.4" width="26" height="1.3" fill="#a4a4aa"/>
</g>
<rect x="308.6" y="149.4" width="75" height="12.2" rx="3.2" fill="#fff" stroke="#9aa4b0" stroke-width="0.8"/>
<text x="316" y="159.4" font-size="11.2" fill="#1a1a1a" text-anchor="start" >Pin-13 LED</text>
<path d="M308.7,155.4 L281.3,174.2" fill="none" stroke="#c0ccd8" stroke-width="0.9"/>
<circle cx="281.3" cy="174.2" r="1.4" fill="#d0d8e0"/>
<rect x="307.4" y="246.8" width="150.8" height="14" rx="3.5" fill="#fff" stroke="#9aa4b0" stroke-width="0.8"/>
<text x="311" y="257.5" font-size="11.4" fill="#1a1a1a" textLength="142.6" lengthAdjust="spacingAndGlyphs">Cut to disable the auto-reset</text>
<text x="62" y="9.5" font-size="10.8" fill="#1a1a1a" text-anchor="middle" >USB JACK</text>
<text x="62" y="20.6" font-size="10.8" fill="#1a1a1a" text-anchor="middle" >Type-B</text>
<rect x="21.5" y="29.5" width="74.5" height="67.5" fill="#fff" stroke="#555" stroke-width="1"/>
<path d="M40,39 L77,39 L87,49 L87,86 Q87,89 84,89 L33,89 Q30,89 30,86 L30,49 Z" fill="#d2d2d2" stroke="#333" stroke-width="1.2"/>
<rect x="38" y="50" width="44" height="27" fill="#fff" stroke="#333" stroke-width="1.1"/>
<rect x="45" y="46" width="7.8" height="5" fill="#e4cc2a"/>
<rect x="66" y="46" width="7.8" height="5" fill="#e4cc2a"/>
<rect x="45" y="77" width="7.8" height="5" fill="#e4cc2a"/>
<rect x="66" y="77" width="7.8" height="5" fill="#e4cc2a"/>
<path d="M59,102 Q52,138 72,151" fill="none" stroke="#777" stroke-width="1.6"/>
<text x="115.6" y="97.2" font-size="11.75" fill="#1a1a1a" text-anchor="start" >Reset button</text>
<rect x="225.75" y="32" width="119.75" height="13.5" rx="3.5" fill="#fff" stroke="#808080" stroke-width="1"/>
<text x="232" y="43.2" font-size="11.8" fill="#1a1a1a" text-anchor="start" >ATMEGA16U2 ICSP</text>
<path d="M225.75,39.5 L208.5,39.5 L208.5,150" fill="none" stroke="#8a8a8a" stroke-width="1"/>
<text transform="translate(230.20,95) rotate(-90)" font-size="12.2" fill="#1a1a1a" text-anchor="start" >SCL</text>
<path d="M222,96.5 L230,96.5 L226,103.5 Z" fill="#9a9a9a"/>
<path d="M226,101 L226,121.5" fill="none" stroke="#b4b4b4" stroke-width="1"/>
<circle cx="226" cy="121.5" r="1.3" fill="#c0c0c0"/>
<text transform="translate(246.20,95) rotate(-90)" font-size="12.2" fill="#1a1a1a" text-anchor="start" >SDA</text>
<path d="M238,96.5 L246,96.5 L242,103.5 Z" fill="#9a9a9a"/>
<path d="M242,101 L242,121.5" fill="none" stroke="#b4b4b4" stroke-width="1"/>
<circle cx="242" cy="121.5" r="1.3" fill="#c0c0c0"/>
<text transform="translate(292.20,95) rotate(-90)" font-size="12.2" fill="#1a1a1a" text-anchor="start" >SCK</text>
<path d="M284,96.5 L292,96.5 L288,103.5 Z" fill="#9a9a9a"/>
<path d="M288,101 L288,121.5" fill="none" stroke="#b4b4b4" stroke-width="1"/>
<circle cx="288" cy="121.5" r="1.3" fill="#c0c0c0"/>
<text transform="translate(308.20,95) rotate(-90)" font-size="12.2" fill="#1a1a1a" text-anchor="start" >MISO</text>
<path d="M300,96.5 L308,96.5 L304,103.5 Z" fill="#9a9a9a"/>
<path d="M304,101 L304,121.5" fill="none" stroke="#b4b4b4" stroke-width="1"/>
<circle cx="304" cy="121.5" r="1.3" fill="#c0c0c0"/>
<text transform="translate(323.20,95) rotate(-90)" font-size="12.2" fill="#1a1a1a" text-anchor="start" >MOSI</text>
<path d="M315,96.5 L323,96.5 L319,103.5 Z" fill="#9a9a9a"/>
<path d="M319,101 L319,121.5" fill="none" stroke="#b4b4b4" stroke-width="1"/>
<circle cx="319" cy="121.5" r="1.3" fill="#c0c0c0"/>
<text transform="translate(339.20,95) rotate(-90)" font-size="12.2" fill="#1a1a1a" text-anchor="start" >SS</text>
<path d="M331,96.5 L339,96.5 L335,103.5 Z" fill="#9a9a9a"/>
<path d="M335,101 L335,121.5" fill="none" stroke="#b4b4b4" stroke-width="1"/>
<circle cx="335" cy="121.5" r="1.3" fill="#c0c0c0"/>
<text transform="translate(370.20,95) rotate(-90)" font-size="12.2" fill="#1a1a1a" text-anchor="start" >ICP1</text>
<path d="M362,96.5 L370,96.5 L366,103.5 Z" fill="#9a9a9a"/>
<path d="M366,101 L366,121.5" fill="none" stroke="#b4b4b4" stroke-width="1"/>
<circle cx="366" cy="121.5" r="1.3" fill="#c0c0c0"/>
<text transform="translate(410.20,95) rotate(-90)" font-size="12.2" fill="#1a1a1a" text-anchor="start" >OC0A</text>
<path d="M402,96.5 L410,96.5 L406,103.5 Z" fill="#9a9a9a"/>
<path d="M406,101 L406,121.5" fill="none" stroke="#b4b4b4" stroke-width="1"/>
<circle cx="406" cy="121.5" r="1.3" fill="#c0c0c0"/>
<text transform="translate(426.20,95) rotate(-90)" font-size="12.2" fill="#1a1a1a" text-anchor="start" >OC0B</text>
<path d="M418,96.5 L426,96.5 L422,103.5 Z" fill="#9a9a9a"/>
<path d="M422,101 L422,121.5" fill="none" stroke="#b4b4b4" stroke-width="1"/>
<circle cx="422" cy="121.5" r="1.3" fill="#c0c0c0"/>
<text transform="translate(441.20,95) rotate(-90)" font-size="12.2" fill="#1a1a1a" text-anchor="start" >XCK</text>
<path d="M433,96.5 L441,96.5 L437,103.5 Z" fill="#9a9a9a"/>
<path d="M437,101 L437,121.5" fill="none" stroke="#b4b4b4" stroke-width="1"/>
<circle cx="437" cy="121.5" r="1.3" fill="#c0c0c0"/>
<text transform="translate(456.20,95) rotate(-90)" font-size="12.2" fill="#1a1a1a" text-anchor="start" >OC2B</text>
<path d="M448,96.5 L456,96.5 L452,103.5 Z" fill="#9a9a9a"/>
<path d="M452,101 L452,121.5" fill="none" stroke="#b4b4b4" stroke-width="1"/>
<circle cx="452" cy="121.5" r="1.3" fill="#c0c0c0"/>
<text transform="translate(488.20,95) rotate(-90)" font-size="12.2" fill="#1a1a1a" text-anchor="start" >TX</text>
<path d="M480,96.5 L488,96.5 L484,103.5 Z" fill="#9a9a9a"/>
<path d="M484,101 L484,121.5" fill="none" stroke="#b4b4b4" stroke-width="1"/>
<circle cx="484" cy="121.5" r="1.3" fill="#c0c0c0"/>
<text transform="translate(503.20,95) rotate(-90)" font-size="12.2" fill="#1a1a1a" text-anchor="start" >RX</text>
<path d="M495,96.5 L503,96.5 L499,103.5 Z" fill="#9a9a9a"/>
<path d="M499,101 L499,121.5" fill="none" stroke="#b4b4b4" stroke-width="1"/>
<circle cx="499" cy="121.5" r="1.3" fill="#c0c0c0"/>
<path d="M486.8,416 L486.8,436" fill="none" stroke="#b4b4b4" stroke-width="1"/>
<circle cx="486.8" cy="416" r="1.3" fill="#c0c0c0"/>
<path d="M482.6,441.5 L491.0,441.5 L486.8,434.8 Z" fill="#9a9a9a"/>
<text transform="translate(490.88,466.2) rotate(-90)" font-size="10.4" fill="#1a1a1a" text-anchor="start" >SDA</text>
<path d="M502.2,416 L502.2,436" fill="none" stroke="#b4b4b4" stroke-width="1"/>
<circle cx="502.2" cy="416" r="1.3" fill="#c0c0c0"/>
<path d="M498.0,441.5 L506.4,441.5 L502.2,434.8 Z" fill="#9a9a9a"/>
<text transform="translate(506.28,466.2) rotate(-90)" font-size="10.4" fill="#1a1a1a" text-anchor="start" >SCL</text>
<rect x="2.5" y="283" width="107.5" height="27" rx="4" fill="#fff" stroke="#808080" stroke-width="1"/>
<text x="56" y="295.2" font-size="10.8" fill="#1a1a1a" text-anchor="middle" >Serial interface chip</text>
<text x="56" y="306" font-size="10.8" fill="#1a1a1a" text-anchor="middle" >(ATmega 16U2)</text>
<path d="M110,298.5 C150,290 178,283 198,267 S229,236 237,223" fill="none" stroke="#a8bccf" stroke-width="0.9"/>
<circle cx="237" cy="223" r="1.6" fill="#a8bccf"/>
<rect x="2.5" y="378.5" width="93" height="13" rx="3.5" fill="#fff" stroke="#808080" stroke-width="1"/>
<text x="49.5" y="388.5" font-size="10.8" fill="#1a1a1a" text-anchor="middle" >POWER JVACK</text>
<path d="M58.1,453 A25.6,25.6 0 1 1 75.1,453" fill="none" stroke="#1e1e1e" stroke-width="7.4" stroke-linecap="round"/>
<circle cx="66.2" cy="430.4" r="8.5" fill="#1e1e1e"/>
<circle cx="66.2" cy="430.4" r="1.5" fill="#999"/>
<path d="M66.2,431 L66.2,472 L70,472" fill="none" stroke="#a0a0a0" stroke-width="1.3"/>
<path d="M67.5,472 L75,467.6 L75,476.4 Z" fill="#999"/>
<text x="75.8" y="475.3" font-size="10.8" fill="#1a1a1a" text-anchor="start" >2.1mm</text>
<circle cx="86.3" cy="445.3" r="1.5" fill="#999"/>
<path d="M86.3,445.3 L98,445.3" fill="none" stroke="#a0a0a0" stroke-width="1.3"/>
<path d="M97.5,445.3 L104.2,440.8 L104.2,449.8 Z" fill="#999"/>
<text x="107" y="448.8" font-size="10.8" fill="#1a1a1a" text-anchor="start" >5.5 mm</text>
<text x="5.5" y="433" font-size="10.8" fill="#1a1a1a" text-anchor="start" >GDN</text>
<rect x="541.7" y="220.4" width="97.2" height="26.7" rx="4" fill="#fff" stroke="#808080" stroke-width="1"/>
<text x="590.3" y="231.7" font-size="10.9" fill="#1a1a1a" text-anchor="middle" >ICSP</text>
<text x="590.3" y="242.4" font-size="10.9" fill="#1a1a1a" text-anchor="middle" >for Atmega 328P</text>
<path d="M541.7,234.6 L507.5,261.2" fill="none" stroke="#c0ccd8" stroke-width="0.9"/>
<circle cx="507.5" cy="261.2" r="1.4" fill="#d0d8e0"/>
<rect x="580" y="251.8" width="22.5" height="10.4" rx="4" fill="#1c1c1c"/>
<rect x="584.3" y="255.1" width="3.8" height="3.8" fill="#d8d8d8"/>
<rect x="594.5" y="255.1" width="3.8" height="3.8" fill="#d8d8d8"/>
<rect x="580" y="263.2" width="22.5" height="10.4" rx="4" fill="#1c1c1c"/>
<rect x="584.3" y="266.5" width="3.8" height="3.8" fill="#d8d8d8"/>
<rect x="594.5" y="266.5" width="3.8" height="3.8" fill="#d8d8d8"/>
<rect x="580" y="274.1" width="22.5" height="10.4" rx="4" fill="#1c1c1c"/>
<rect x="584.3" y="277.4" width="3.8" height="3.8" fill="#d8d8d8"/>
<rect x="594.5" y="277.4" width="3.8" height="3.8" fill="#d8d8d8"/>
<text x="575.5" y="260.8" font-size="11" fill="#1a1a1a" text-anchor="end" >MISO</text>
<text x="607" y="260.8" font-size="11" fill="#1a1a1a" text-anchor="start" >VCC</text>
<text x="575.5" y="272.1" font-size="11" fill="#1a1a1a" text-anchor="end" >SCK</text>
<text x="607" y="272.1" font-size="11" fill="#1a1a1a" text-anchor="start" >MOSI</text>
<text x="575.5" y="283" font-size="11" fill="#1a1a1a" text-anchor="end" >RESET</text>
<text x="607" y="283" font-size="11" fill="#1a1a1a" text-anchor="start" >GND</text>
<rect x="541.5" y="318" width="97.5" height="26" rx="4" fill="#fff" stroke="#808080" stroke-width="1"/>
<text x="590.3" y="329.3" font-size="10.9" fill="#1a1a1a" text-anchor="middle" >Core Chip</text>
<text x="590.3" y="340" font-size="10.9" fill="#1a1a1a" text-anchor="middle" >(Atmega 328P)</text>
<path d="M541.5,331 L471.8,331" fill="none" stroke="#c8d0da" stroke-width="0.9"/>
<circle cx="471.8" cy="331" r="1.4" fill="#c8d0da"/>
</svg></body></html>
